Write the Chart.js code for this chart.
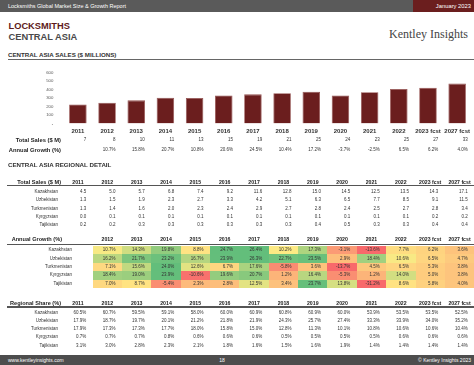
<!DOCTYPE html>
<html>
<head>
<meta charset="utf-8">
<script src="https://cdn.jsdelivr.net/npm/chart.js@4"></script>
<style>
    body { margin: 0; width: 474px; height: 365px; overflow: hidden; background: #fff; position: relative;
           font-family: "Liberation Sans", Arial, sans-serif; color: #333; }
    .t { position: absolute; white-space: nowrap; height: 10px; line-height: 10px; }
    .bar { position: absolute; }
    #chartBox { position: absolute; left: 0; top: 60px; width: 474px; height: 78px; }
</style>
</head>
<body>
<div class="bar" style="left:0;top:0;width:474px;height:12.3px;background:#5a5a5a"></div>
<div class="bar" style="left:413px;top:0;width:61px;height:12.3px;background:#6b1e1e"></div>
<div class="bar" style="left:8px;top:59px;width:466px;height:1px;background:#666"></div>
<div class="bar" style="left:0;top:355px;width:474px;height:10px;background:#4d4d4d"></div>
<div id="chartBox"><canvas id="salesChart" width="474" height="78"></canvas></div>
<div id="page"></div>

<script>
(function () {
    "use strict";

    var chartYears = ['2011', '2012', '2013', '2014', '2015', '2016', '2017', '2018', '2019', '2020', '2021', '2022', '2023 fcst', '2027 fcst'];
    var barValues = [223, 244, 272, 303, 300, 329, 343, 357, 375, 330, 368, 406, 420, 470];
    var yTicks = [0, 100, 200, 300, 400, 500, 600];
    var totalSales = ['7', '8', '10', '11', '13', '15', '19', '21', '25', '24', '23', '25', '27', '33'];
    var annualGrowth = ['', '10.7%', '15.8%', '20.7%', '10.8%', '20.6%', '24.5%', '10.4%', '17.2%', '-3.7%', '-2.5%', '6.5%', '6.2%', '4.0%'];

    var countries = ['Kazakhstan', 'Uzbekistan', 'Turkmenistan', 'Kyrgyzstan', 'Tajikistan'];
    var salesRows = [
        ['4.5', '5.0', '5.7', '6.8', '7.4', '9.2', '11.6', '12.8', '15.0', '14.5', '12.5', '13.5', '14.3', '17.1'],
        ['1.3', '1.5', '1.9', '2.3', '2.7', '3.3', '4.2', '5.1', '6.3', '6.5', '7.7', '8.5', '9.1', '11.5'],
        ['1.3', '1.4', '1.6', '2.0', '2.3', '2.4', '2.9', '2.7', '2.8', '2.4', '2.5', '2.7', '2.8', '3.4'],
        ['0.0', '0.1', '0.1', '0.1', '0.1', '0.1', '0.1', '0.1', '0.1', '0.1', '0.1', '0.1', '0.2', '0.2'],
        ['0.2', '0.2', '0.3', '0.3', '0.3', '0.3', '0.3', '0.3', '0.4', '0.5', '0.3', '0.3', '0.4', '0.4']
    ];
    // growth starts at 2012
    var growthRows = [
        [10.7, 14.3, 19.8, 8.8, 24.7, 26.4, 10.2, 17.3, -3.1, -13.6, 7.7, 6.2, 3.6],
        [16.2, 21.7, 23.2, 16.7, 23.9, 26.3, 22.7, 23.5, 2.9, 18.4, 10.6, 6.5, 4.7],
        [7.1, 15.6, 24.0, 12.6, 6.7, 17.6, -5.8, 3.6, -13.7, 4.5, 6.5, 5.3, 3.8],
        [18.4, 19.0, 23.9, -10.6, 19.6, 20.7, 1.2, 16.4, -5.3, 1.2, 14.0, 5.0, 3.8],
        [7.0, 8.7, -5.4, 2.3, 2.8, 12.5, 3.4, 23.7, 13.8, -31.2, 8.6, 5.8, 4.0]
    ];
    var shareRows = [
        [60.5, 60.7, 59.5, 59.1, 58.0, 60.0, 60.9, 60.8, 60.9, 60.0, 53.9, 53.5, 53.5, 52.5],
        [17.9, 18.7, 19.7, 20.1, 21.2, 21.8, 21.9, 24.3, 25.7, 27.4, 33.3, 33.9, 34.0, 35.2],
        [17.9, 17.3, 17.3, 17.7, 18.0, 15.8, 15.0, 12.8, 11.3, 10.1, 10.8, 10.6, 10.6, 10.4],
        [0.7, 0.7, 0.7, 0.8, 0.6, 0.6, 0.6, 0.5, 0.5, 0.5, 0.5, 0.6, 0.6, 0.6],
        [3.1, 3.0, 2.8, 2.3, 2.1, 1.8, 1.6, 1.5, 1.6, 1.9, 1.4, 1.4, 1.4, 1.4]
    ];

    var page = document.getElementById('page');
    var COL0 = 63.3, COLW = 29.35;

    function colLeft(i) { return COL0 + i * COLW; }

    // place text: align 'left' -> x is left edge, 'right' -> right edge, 'center' -> centre
    function put(text, x, cy, size, opts) {
        opts = opts || {};
        var d = document.createElement('div');
        d.className = 't';
        d.textContent = text;
        d.style.top = (cy - 5) + 'px';
        d.style.fontSize = size + 'px';
        if (opts.bold) d.style.fontWeight = 'bold';
        if (opts.color) d.style.color = opts.color;
        if (opts.family) d.style.fontFamily = opts.family;
        if (opts.align === 'right') {
            d.style.right = (474 - x) + 'px';
        } else if (opts.align === 'center') {
            d.style.left = (x - 40) + 'px';
            d.style.width = '80px';
            d.style.textAlign = 'center';
        } else {
            d.style.left = x + 'px';
        }
        page.appendChild(d);
    }

    function rule(y) {
        var d = document.createElement('div');
        d.className = 'bar';
        d.style.cssText = 'left:7px;top:' + y + 'px;width:467px;height:1.5px;background:#555';
        page.appendChild(d);
    }

    function heatColor(v) {
        var stops = [[-12, [248, 105, 107]], [0, [252, 172, 120]], [10, [255, 235, 132]], [24, [99, 190, 123]]];
        if (v <= stops[0][0]) return 'rgb(' + stops[0][1].join(',') + ')';
        for (var i = 1; i < stops.length; i++) {
            if (v <= stops[i][0]) {
                var a = stops[i - 1], b = stops[i];
                var f = (v - a[0]) / (b[0] - a[0]);
                var c = a[1].map(function (x, k) { return Math.round(x + (b[1][k] - x) * f); });
                return 'rgb(' + c.join(',') + ')';
            }
        }
        return 'rgb(' + stops[stops.length - 1][1].join(',') + ')';
    }

    // page header / footer
    put('Locksmiths Global Market Size & Growth Report', 8, 6.2, 5.5, { color: '#fff' });
    put('January 2023', 471, 6.2, 5.8, { color: '#fff', align: 'right' });
    put('LOCKSMITHS', 8.5, 26.3, 9.3, { bold: true, color: '#5e1a1a' });
    put('CENTRAL ASIA', 8.5, 37, 9.3, { bold: true, color: '#4a4a4a' });
    put('Kentley Insights', 468, 33.5, 12, { color: '#444', align: 'right', family: '"Liberation Serif", "DejaVu Serif", serif' });
    put('CENTRAL ASIA SALES ($ MILLIONS)', 8, 55.3, 6.2, { bold: true, color: '#333' });
    put('www.kentleyinsights.com', 8, 360, 5, { color: '#fff' });
    put('18', 222, 360, 5, { color: '#fff', align: 'center' });
    put('\u00a9 Kentley Insights 2023', 471, 360, 5, { color: '#fff', align: 'right' });

    // rows under the bar chart
    put('Total Sales ($ M)', 61, 140, 5.8, { bold: true, color: '#222', align: 'right' });
    put('Annual Growth (%)', 61, 149.5, 5.8, { bold: true, color: '#222', align: 'right' });
    totalSales.forEach(function (v, i) { put(v, colLeft(i + 1) - 6.5, 140, 4.5, { align: 'right' }); });
    annualGrowth.forEach(function (v, i) { put(v, colLeft(i + 1) - 6.5, 149.5, 4.5, { align: 'right' }); });

    put('CENTRAL ASIA REGIONAL DETAIL', 8, 165, 6.2, { bold: true, color: '#333' });

    // Total sales table
    put('Total Sales ($ M)', 61, 181.5, 5.6, { bold: true, color: '#222', align: 'right' });
    chartYears.forEach(function (y, i) { put(y, colLeft(i) + COLW / 2, 181.5, 5.2, { bold: true, color: '#222', align: 'center' }); });
    rule(184.8);
    salesRows.forEach(function (row, r) {
        var cy = 192 + r * 8.3;
        put(countries[r], 58, cy, 4.5, { align: 'right' });
        row.forEach(function (v, i) { put(v, colLeft(i + 1) - 6.5, cy, 4.5, { align: 'right' }); });
    });

    // Annual growth heat table
    put('Annual Growth (%)', 62, 238.5, 5.6, { bold: true, color: '#222', align: 'right' });
    chartYears.slice(1).forEach(function (y, i) { put(y, colLeft(i + 1) + COLW / 2, 238.5, 5.2, { bold: true, color: '#222', align: 'center' }); });
    rule(243.6);
    growthRows.forEach(function (row, r) {
        var top = 246 + r * 8.4;
        put(countries[r], 72, top + 4.2, 4.5, { align: 'right' });
        row.forEach(function (v, i) {
            var c = document.createElement('div');
            c.className = 'bar';
            c.style.cssText = 'left:' + colLeft(i + 1) + 'px;top:' + top + 'px;width:' + (COLW + 0.5) + 'px;height:8.7px;background:' + heatColor(v);
            page.appendChild(c);
        });
        row.forEach(function (v, i) { put(v.toFixed(1) + '%', colLeft(i + 2) - 6.5, top + 4.2, 4.5, { align: 'right' }); });
    });

    // Regional share table
    put('Regional Share (%)', 61, 302.7, 5.6, { bold: true, color: '#222', align: 'right' });
    chartYears.forEach(function (y, i) { put(y, colLeft(i) + COLW / 2, 302.7, 5.2, { bold: true, color: '#222', align: 'center' }); });
    rule(306);
    shareRows.forEach(function (row, r) {
        var cy = 312.7 + r * 8.25;
        put(countries[r], 58, cy, 4.5, { align: 'right' });
        row.forEach(function (v, i) { put(v.toFixed(1) + '%', colLeft(i + 1) - 6.5, cy, 4.5, { align: 'right' }); });
    });

    // Sales bar chart
    new Chart(document.getElementById('salesChart'), {
        type: 'bar',
        data: {
            labels: chartYears,
            datasets: [{
                data: barValues,
                backgroundColor: '#6b1e1e',
                borderColor: '#94504f',
                borderWidth: 0.8,
                barPercentage: 0.6,
                categoryPercentage: 1
            }]
        },
        options: {
            responsive: false,
            animation: false,
            devicePixelRatio: 1,
            layout: { padding: { top: 6.7, right: 0, left: 0, bottom: 0 } },
            scales: {
                x: {
                    grid: { display: false, drawTicks: false },
                    border: { display: false },
                    ticks: { color: '#333', font: { size: 6, weight: 'bold', family: '"Liberation Sans", Arial' }, padding: 4, maxRotation: 0, autoSkip: false },
                    afterFit: function (s) { s.height = 14.6; }
                },
                y: {
                    min: yTicks[0],
                    max: yTicks[yTicks.length - 1],
                    grid: { display: false, drawTicks: false },
                    border: { display: false },
                    afterBuildTicks: function (s) { s.ticks = yTicks.map(function (v) { return { value: v }; }); },
                    ticks: {
                        color: '#555', padding: 10,
                        font: { size: 4.3, family: '"Liberation Sans", Arial' },
                        callback: function (v) { return v === 0 ? '-' : v; }
                    },
                    afterFit: function (s) { s.width = 63.3; }
                }
            },
            plugins: { legend: { display: false }, tooltip: { enabled: false } }
        }
    });
})();
</script>
</body>
</html>
